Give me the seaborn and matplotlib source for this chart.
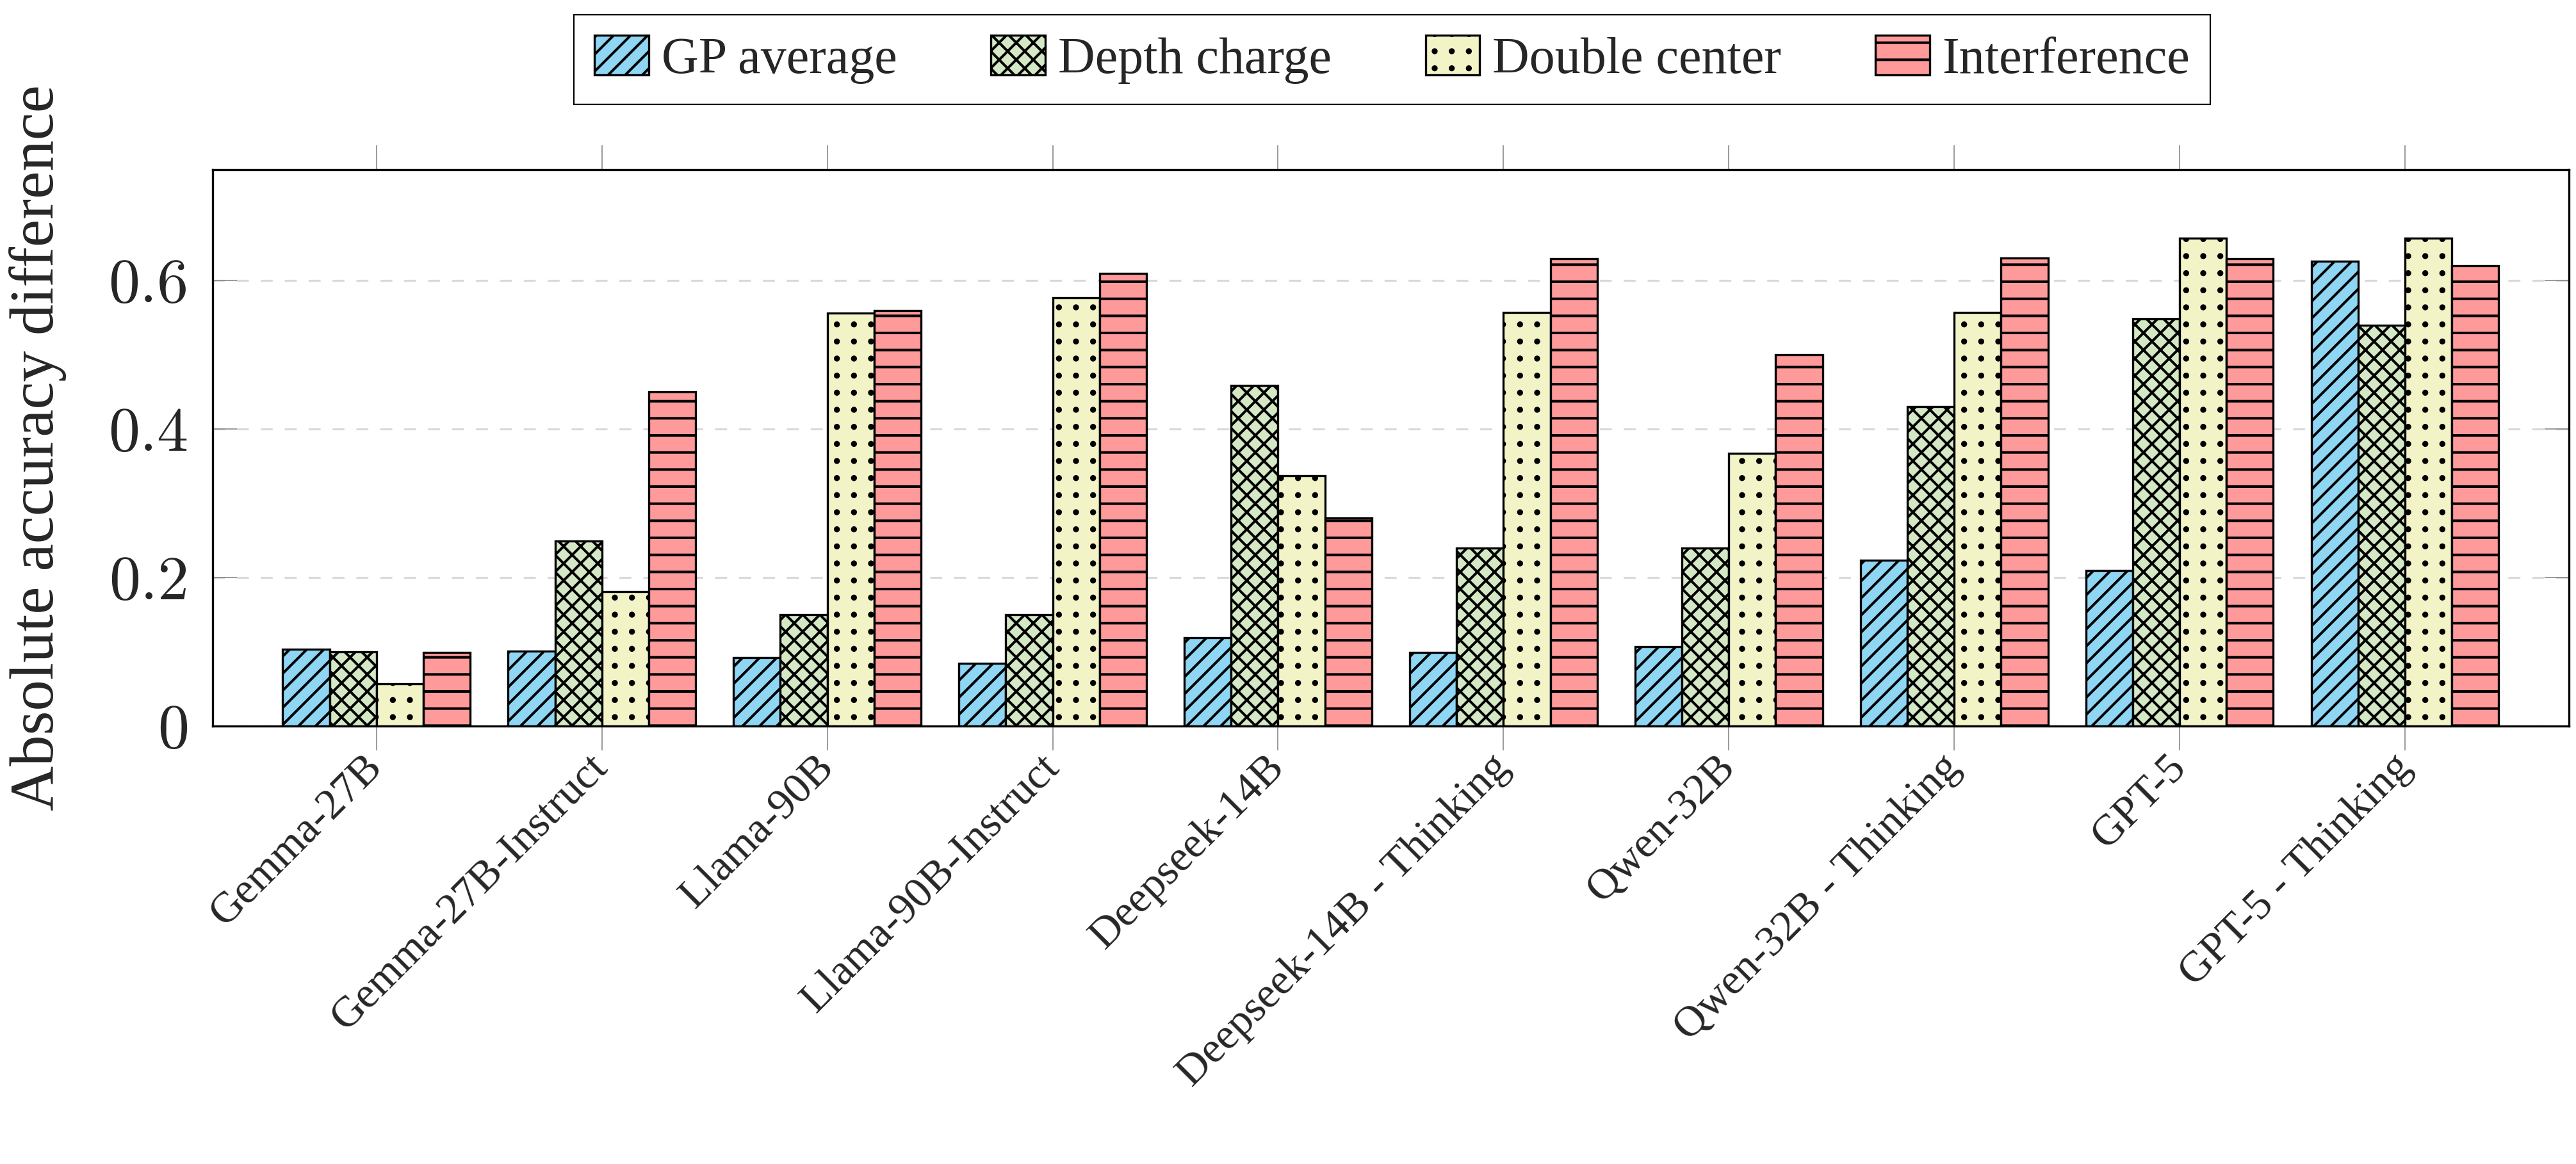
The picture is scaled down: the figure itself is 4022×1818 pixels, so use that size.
import matplotlib
matplotlib.use("Agg")
import matplotlib.pyplot as plt
import matplotlib.hatch as mhatch
import seaborn as sns
import pandas as pd
import numpy as np

# data
models = ['Gemma-27B', 'Gemma-27B-Instruct', 'Llama-90B', 'Llama-90B-Instruct',
          'Deepseek-14B', 'Deepseek-14B - Thinking', 'Qwen-32B',
          'Qwen-32B - Thinking', 'GPT-5', 'GPT-5 - Thinking']
metrics = ['GP average', 'Depth charge', 'Double center', 'Interference']

gp_average = [0.103, 0.101, 0.092, 0.084, 0.119, 0.099, 0.107, 0.223, 0.209, 0.626]
depth_charge = [0.100, 0.249, 0.150, 0.150, 0.459, 0.240, 0.240, 0.430, 0.549, 0.540]
double_center = [0.057, 0.181, 0.556, 0.577, 0.337, 0.557, 0.367, 0.557, 0.657, 0.657]
interference = [0.099, 0.450, 0.560, 0.610, 0.280, 0.630, 0.500, 0.631, 0.630, 0.620]

yticks = [0, 0.2, 0.4, 0.6]
ytick_labels = ['0', '0.2', '0.4', '0.6']

colors = {'GP average': '#8fd6f5', 'Depth charge': '#d5e8c5',
          'Double center': '#f2f4c8', 'Interference': '#ff9a9a'}
hatches = {'GP average': '////', 'Depth charge': 'xxxx',
           'Double center': '..', 'Interference': '--'}


# pgfplots draws the dots on a square grid, matplotlib staggers them
class GridDots(mhatch.Circles):
    size = 0.1
    filled = True

    def __init__(self, hatch, density):
        self.num_rows = hatch.count('.') * density
        super().__init__(hatch, density)
        n = self.num_rows
        self.num_shapes = (n + 1) ** 2 if n else 0
        self.num_vertices = self.num_shapes * len(self.shape_vertices)

    def set_vertices_and_codes(self, vertices, codes):
        offset = 1.0 / self.num_rows
        shape = self.shape_vertices * offset * self.size
        nv = len(shape)
        pos = np.linspace(0, 1, self.num_rows + 1)
        k = 0
        for y in pos:
            for x in pos:
                vertices[k:k + nv] = shape + (x, y)
                codes[k:k + nv] = self.shape_codes
                k += nv


mhatch._hatch_types = [GridDots if t is mhatch.SmallFilledCircles else t
                       for t in mhatch._hatch_types]

df = pd.DataFrame({
    'model': models * 4,
    'metric': [m for m in metrics for _ in models],
    'value': gp_average + depth_charge + double_center + interference,
})

sns.set_style("white")
plt.rcParams['font.family'] = ['Liberation Serif', 'DejaVu Serif']
plt.rcParams['hatch.linewidth'] = 0.9

DPI = 320
fig = plt.figure(figsize=(4022 / DPI, 1818 / DPI), dpi=DPI)
ax = fig.add_axes([0.08255, 0.37646, 0.9147, 0.47794])

sns.barplot(data=df, x='model', y='value', hue='metric', hue_order=metrics,
            order=models, palette=colors, saturation=1, width=0.83,
            edgecolor='black', linewidth=0.75, errorbar=None, legend=False,
            ax=ax)

for metric, cont in zip(metrics, ax.containers):
    for bar in cont:
        bar.set_hatch(hatches[metric])
        bar.set_edgecolor('black')

ax.set_xlim(-0.726, len(models) - 1 + 0.726)
ax.set_ylim(0, 0.75)

# grid and frame
ax.yaxis.grid(True, linestyle=(0, (6, 6)), color='#d9d9d9', linewidth=0.7)
ax.xaxis.grid(False)
ax.set_axisbelow(True)
for sp in ax.spines.values():
    sp.set_color('black')
    sp.set_linewidth(0.75)

ax.set_yticks(yticks)
ax.set_yticklabels(ytick_labels, fontfamily='cmr10', fontsize=22)
ax.tick_params(axis='y', direction='in', left=True, right=True, length=8.5,
               width=0.35, color='#808080', pad=8.4)
ax.set_xticks(range(len(models)))
ax.set_xticklabels(models, rotation=45, ha='right', va='center',
                   rotation_mode='anchor', fontsize=15.3)
ax.tick_params(axis='x', direction='out', bottom=True, top=True, length=8.5,
               width=0.35, color='#808080', pad=4)

ax.set_xlabel('')
ax.set_ylabel('Absolute accuracy difference', fontsize=21.8)
ax.yaxis.set_label_coords(-0.062, 0.5)

leg = ax.legend(handles=list(ax.containers), labels=metrics, ncol=4,
                loc='center', bbox_to_anchor=(0.5405, 0.949),
                bbox_transform=fig.transFigure, fontsize=18, frameon=True,
                fancybox=False, framealpha=1, edgecolor='black',
                handlelength=1.06, handleheight=0.83, handletextpad=0.25,
                columnspacing=1.83, borderpad=0.4, borderaxespad=0)
leg.get_frame().set_linewidth(0.5)

fig.savefig('out.png', dpi=DPI)
